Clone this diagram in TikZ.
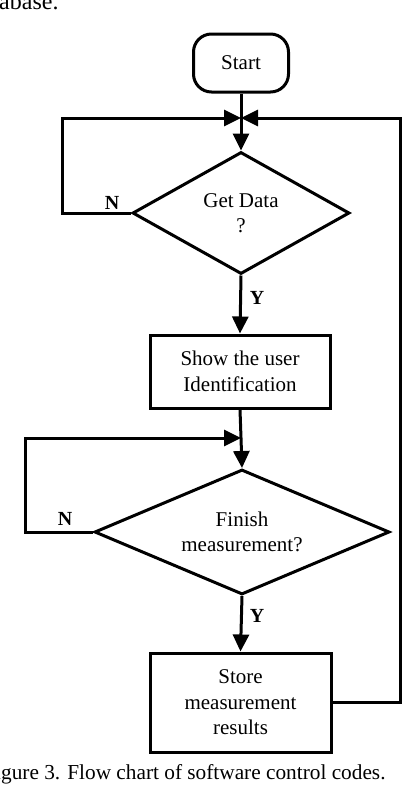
\documentclass[tikz,border=0pt]{standalone}
\usepackage{fontspec}
\setmainfont{Liberation Serif}
\usetikzlibrary{shapes.geometric,arrows.meta}
\begin{document}
\begin{tikzpicture}[x=1pt,y=-1pt,
  line/.style={line width=3pt},
  arr/.style={line width=3pt,-{Triangle[length=17pt,width=16pt]}},
  txt/.style={font=\fontsize{21}{25.5}\selectfont},
  box/.style={draw,line width=3pt,align=center,inner sep=0pt,txt},
  dec/.style={draw,diamond,line width=3pt,align=center,inner sep=0pt,txt},
  lab/.style={font=\fontsize{20}{24}\selectfont\bfseries}]
\useasboundingbox (0,0) rectangle (402,790);
\node[font=\fontsize{24}{28}\selectfont,anchor=base west,inner sep=0pt] (top) at (-1,9) {abase.};
\node[box,rounded corners=18pt,minimum width=95pt,minimum height=58pt] (start) at (241,63) {Start};
\coordinate (j1) at (241,118);
\node[dec,aspect=1.78,minimum width=217pt,minimum height=122pt] (d1) at (241,213) {Get Data\\?};
\node[box,minimum width=180pt,minimum height=73pt] (b2) at (240,371.5) {Show the user\\Identification};
\coordinate (j2) at (241,438);
\node[dec,aspect=2.36,minimum width=295pt,minimum height=125pt] (d2) at (242,532) {Finish\\measurement?};
\node[box,minimum width=181pt,minimum height=99pt] (b3) at (240.5,702.5) {Store\\measurement\\results};
\coordinate (l1) at (62,118);
\coordinate (l2) at (25,438);
\coordinate (rc) at (400,118);
\draw[line] (start) -- (j1);
\draw[arr] (j1) -- (d1.north);
\draw[arr] (d1.west) -| (l1) -- (j1);
\draw[arr] (b3.east) -| (rc) -- (j1);
\draw[arr] (d1.south) -- (b2.north);
\draw[line] (b2.south) -- (j2);
\draw[arr] (j2) -- (d2.north);
\draw[arr] (d2.west) -| (l2) -- (j2);
\draw[arr] (d2.south) -- (b3.north);
\node[lab] (n1) at (112,203) {N};
\node[lab] (y1) at (257,298) {Y};
\node[lab] (n2) at (65,519) {N};
\node[lab] (y2) at (257,616) {Y};
\node[font=\fontsize{21.3}{25}\selectfont,anchor=base west,inner sep=0pt] (cap) at (-5,779) {igure 3. Flow chart of software control codes.};
\end{tikzpicture}
\end{document}
